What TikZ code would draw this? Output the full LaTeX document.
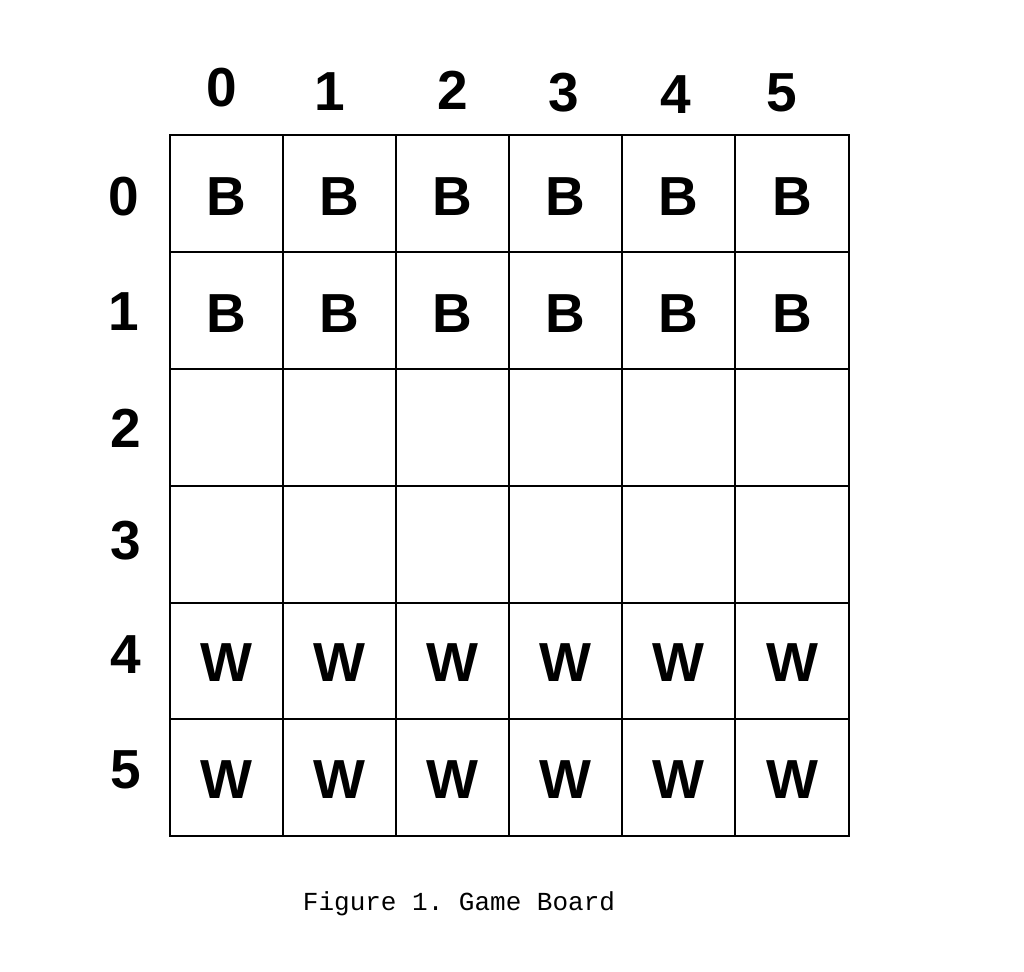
\documentclass[tikz,border=0pt]{standalone}
\usepackage{fontspec}
\setmainfont{Liberation Sans}
\newfontfamily\capfont{Liberation Mono}
\begin{document}
\frenchspacing
\begin{tikzpicture}[x=1pt,y=-1pt,
  lbl/.style={font=\fontsize{55}{55}\selectfont\bfseries, inner sep=0pt},
  piece/.style={font=\fontsize{55}{55}\selectfont\bfseries, inner sep=0pt}]
\useasboundingbox (0,0) rectangle (1024,971);
\fill[white] (0,0) rectangle (1024,971);
\def\xs{{170,283,396,509,622,735,849}}
\def\ys{{135,252,369,486,603,719,836}}
\foreach \r in {0,...,5}{
  \foreach \c in {0,...,5}{
    \pgfmathsetmacro\xa{\xs[\c]}\pgfmathsetmacro\xb{\xs[\c+1]}
    \pgfmathsetmacro\ya{\ys[\r]}\pgfmathsetmacro\yb{\ys[\r+1]}
    \draw[line width=2.8pt] (\xa,\ya) rectangle (\xb,\yb);
    \coordinate (c\r\c) at ({(\xa+\xb)/2},{(\ya+\yb)/2});
  }
}
\foreach \c in {0,...,5}{
  \node[piece] (p0\c) at ([yshift=-3pt]c0\c) {B};
  \node[piece] (p1\c) at ([yshift=-3pt]c1\c) {B};
  \node[piece] (p4\c) at ([yshift=-2pt]c4\c) {W};
  \node[piece] (p5\c) at ([yshift=-2pt]c5\c) {W};
}
\node[lbl] (col0) at (222,88) {0};
\node[lbl] (col1) at (330,92) {1};
\node[lbl] (col2) at (453,90) {2};
\node[lbl] (col3) at (564,93) {3};
\node[lbl] (col4) at (676,95) {4};
\node[lbl] (col5) at (782,93) {5};
\node[lbl] (row0) at (124,197) {0};
\node[lbl] (row1) at (124,312) {1};
\node[lbl] (row2) at (126,428) {2};
\node[lbl] (row3) at (126,541) {3};
\node[lbl] (row4) at (126,655) {4};
\node[lbl] (row5) at (126,770) {5};
\node[font=\capfont\fontsize{26}{26}\selectfont, inner sep=0pt] (cap) at (459,904) {Figure 1. Game Board};
\end{tikzpicture}
\end{document}
